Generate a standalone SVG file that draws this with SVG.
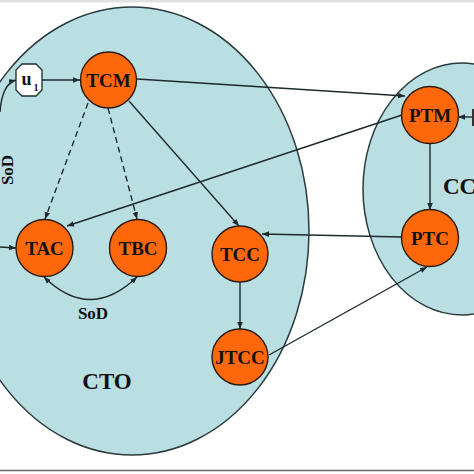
<svg xmlns="http://www.w3.org/2000/svg" width="474" height="474" viewBox="0 0 474 474">
<defs>
<style>
.region{fill:#b9dfe3;stroke:#2b3a3c;stroke-width:1.5}
.node circle{fill:#ff680a;stroke:#2a1a10;stroke-width:1.4}
.lbl{font-family:"Liberation Serif","Times New Roman",serif;font-weight:bold;fill:#111;text-anchor:middle}
.nl{font-size:19px}
.conn line,.conn path{stroke:#1e2a2c;stroke-width:1.4;fill:none}
.dash{stroke-dasharray:6 4}
</style>
<marker id="ah" viewBox="0 0 10 10" refX="10" refY="5" markerWidth="7" markerHeight="7" orient="auto-start-reverse" markerUnits="userSpaceOnUse">
<path d="M0,1 L10,5 L0,9 Z" fill="#1e2a2c"/>
</marker>
</defs>
<rect x="0" y="0" width="474" height="474" fill="#ffffff"/>
<rect x="0" y="0" width="474" height="2.5" fill="#e2e2e2"/>
<line x1="0" y1="470.5" x2="474" y2="470.5" stroke="#666" stroke-width="1.5"/>

<g id="CTO">
<ellipse class="region" cx="132" cy="231" rx="177" ry="224"/>
<text class="lbl" x="107" y="389" font-size="23">CTO</text>
</g>
<g id="CC">
<ellipse class="region" cx="462" cy="189" rx="99" ry="126"/>
<text class="lbl" x="443" y="194" font-size="23" style="text-anchor:start">CC</text>
</g>

<g id="connectors" class="conn">
<path d="M0,112 Q2,84 16,80" marker-end="url(#ah)"/>
<line x1="0" y1="247" x2="16" y2="248" marker-end="url(#ah)"/>
<line x1="42" y1="80" x2="80" y2="80" marker-end="url(#ah)"/>
<line x1="137" y1="79" x2="405" y2="96" marker-end="url(#ah)"/>
<line x1="402" y1="115" x2="67" y2="226" marker-end="url(#ah)"/>
<line class="dash" x1="88" y1="103" x2="45" y2="219" marker-end="url(#ah)"/>
<line class="dash" x1="108" y1="108" x2="137" y2="219" marker-end="url(#ah)"/>
<line x1="129" y1="101" x2="239" y2="226" marker-end="url(#ah)"/>
<line x1="402" y1="237" x2="262" y2="234" marker-end="url(#ah)"/>
<line x1="240" y1="282" x2="240" y2="329" marker-end="url(#ah)"/>
<line x1="269" y1="355" x2="427" y2="267" marker-end="url(#ah)"/>
<line x1="430" y1="143" x2="430" y2="210" marker-end="url(#ah)"/>
<line x1="472" y1="117" x2="458" y2="117" marker-end="url(#ah)"/>
<path d="M44,277 Q90,322 137,277" marker-start="url(#ah)" marker-end="url(#ah)"/>
</g>
<rect x="472" y="109" width="6" height="17" fill="#333"/>

<g id="sod-labels">
<text class="lbl" x="93" y="319" font-size="17">SoD</text>
<text class="lbl" x="0" y="0" font-size="17" transform="translate(13,170) rotate(-90)">SoD</text>
</g>

<g id="u1">
<polygon points="22,64 36,64 42,70 42,90 36,96 22,96 16,90 16,70" fill="#fff" stroke="#1e2a2c" stroke-width="1.3"/>
<text class="lbl" x="26.5" y="85" font-size="18">u</text>
<text class="lbl" x="36" y="91" font-size="10">1</text>
</g>

<g id="TCM" class="node"><circle cx="108.5" cy="80" r="28"/><text class="lbl nl" x="108.5" y="86.5">TCM</text></g>
<g id="TAC" class="node"><circle cx="44.5" cy="248" r="28.5"/><text class="lbl nl" x="44.5" y="254.5">TAC</text></g>
<g id="TBC" class="node"><circle cx="138" cy="248" r="28.5"/><text class="lbl nl" x="138" y="254.5">TBC</text></g>
<g id="TCC" class="node"><circle cx="240" cy="254" r="28"/><text class="lbl nl" x="240" y="260.5">TCC</text></g>
<g id="JTCC" class="node"><circle cx="240" cy="357" r="28"/><text class="lbl nl" x="240" y="363.5">JTCC</text></g>
<g id="PTM" class="node"><circle cx="430" cy="115" r="28.5"/><text class="lbl nl" x="430" y="121.5">PTM</text></g>
<g id="PTC" class="node"><circle cx="430" cy="238" r="28.5"/><text class="lbl nl" x="430" y="244.5">PTC</text></g>
</svg>
